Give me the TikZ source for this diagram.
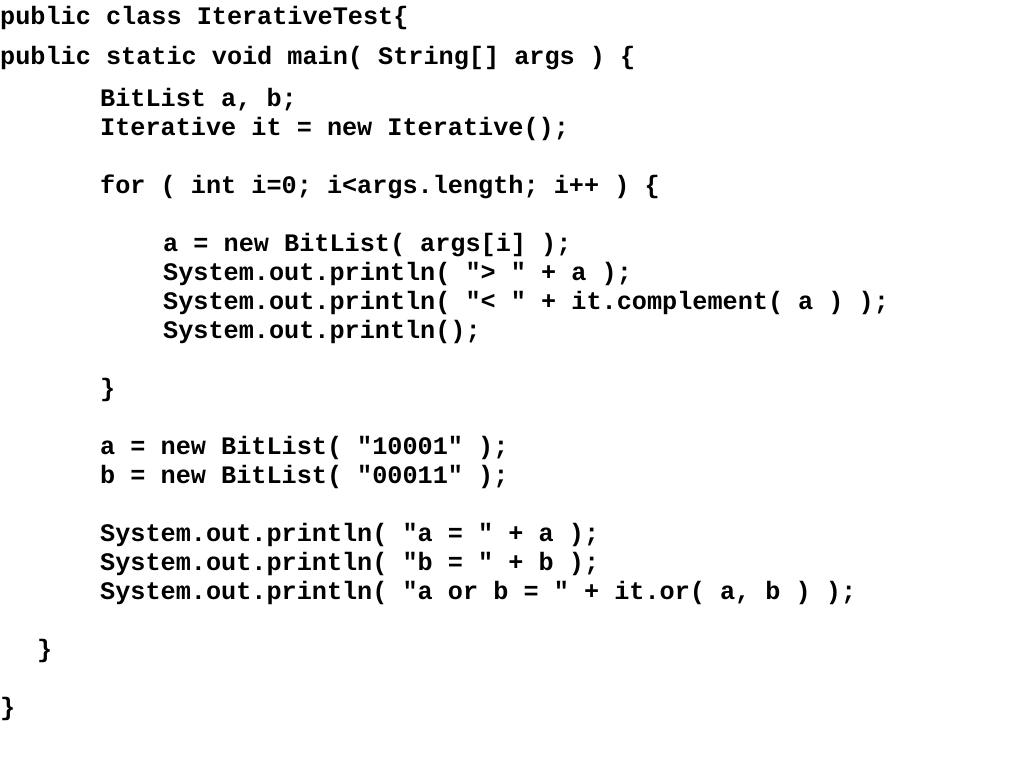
\documentclass[tikz,border=0pt]{standalone}
\usepackage{fontspec}
\setmonofont{Liberation Mono}
\begin{document}
\begin{tikzpicture}[x=1pt,y=-1pt,code/.style={anchor=base west,inner sep=0pt,font=\ttfamily\bfseries\fontsize{25.2}{25.2}\selectfont}]
\useasboundingbox[fill=white] (0,0) rectangle (1024,766);
\node[code] (l1) at (0,24) {public class IterativeTest\{};
\node[code] (l2) at (0,64) {public static void main( String[] args ) \{};
\node[code] (l3) at (100,106) {BitList a, b;};
\node[code] (l4) at (100,135) {Iterative it = new Iterative();};
\node[code] (l5) at (100,193) {for ( int i=0; i<args.length; i++ ) \{};
\node[code] (l6) at (163,251) {a = new BitList( args[i] );};
\node[code] (l7) at (163,280) {System.out.println( "> " + a );};
\node[code] (l8) at (163,309) {System.out.println( "< " + it.complement( a ) );};
\node[code] (l9) at (163,338) {System.out.println();};
\node[code] (l10) at (100,396) {\}};
\node[code] (l11) at (100,454) {a = new BitList( "10001" );};
\node[code] (l12) at (100,483) {b = new BitList( "00011" );};
\node[code] (l13) at (100,541) {System.out.println( "a = " + a );};
\node[code] (l14) at (100,570) {System.out.println( "b = " + b );};
\node[code] (l15) at (100,599) {System.out.println( "a or b = " + it.or( a, b ) );};
\node[code] (l16) at (37,657) {\}};
\node[code] (l17) at (0,715) {\}};
\end{tikzpicture}
\end{document}
